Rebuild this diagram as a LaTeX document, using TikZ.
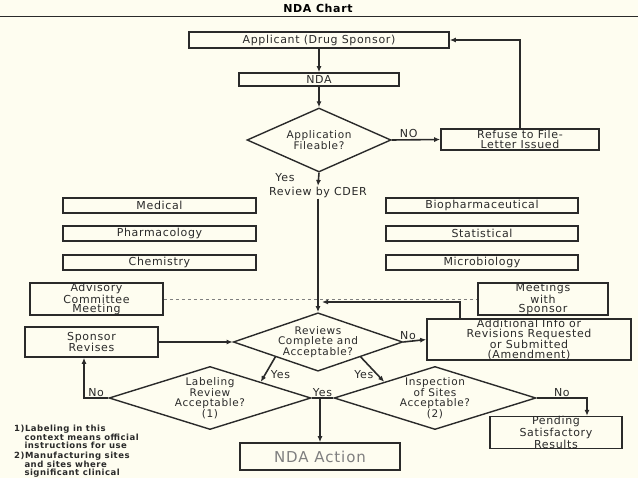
\documentclass[tikz,border=0pt]{standalone}
\usepackage{fontspec}
\setmainfont{DejaVu Sans}[LetterSpace=6]
\usetikzlibrary{shapes.geometric,arrows.meta}
\definecolor{bg}{HTML}{FEFDF0}
\definecolor{ink}{HTML}{2A2A2A}
\begin{document}
\begin{tikzpicture}[x=1pt,y=-1pt,
  box/.style={draw=ink,line width=1.6pt,fill=bg,inner sep=0pt,align=center,text=ink,font=\fontsize{11}{9.5}\selectfont},
  dia/.style={draw=ink,line width=1.4pt,fill=bg,diamond,inner sep=0pt,align=center,text=ink,font=\fontsize{10.5}{9.5}\selectfont},
  arr/.style={-{Latex[length=6pt,width=5pt]},line width=1.6pt,draw=ink},
  lbl/.style={font=\fontsize{11}{10}\selectfont,text=ink,inner sep=1pt}]
\fill[bg] (0,0) rectangle (638,478);
\useasboundingbox (0,0) rectangle (638,478);
\node[font=\bfseries\fontsize{11}{11}\selectfont] (title) at (318,8) {NDA Chart};
\draw[ink,line width=0.8pt] (0,16) -- (638,16);
\node[box,minimum width=260pt,minimum height=16pt] (app) at (319,40) {Applicant (Drug Sponsor)};
\node[box,minimum width=160pt,minimum height=13pt] (nda) at (319,79.5) {NDA};
\node[dia,minimum width=144pt,minimum height=64pt,aspect=2.25] (fil) at (319,140) {Application\\Fileable?};
\node[box,minimum width=158pt,minimum height=21pt] (ref) at (520,139.5) {Refuse to File-\\Letter Issued};
\node[lbl] (yes1) at (285,178) {Yes};
\node[lbl] (cder) at (318,192) {Review by CDER};
\coordinate (c1) at (318,186);
\foreach \n/\t/\y in {med/Medical/205.5,pha/Pharmacology/233.5,che/Chemistry/262.5}{
  \node[box,minimum width=193pt,minimum height=15pt] (\n) at (159.5,\y) {\t};}
\foreach \n/\t/\y in {bio/Biopharmaceutical/205.5,sta/Statistical/233.5,mic/Microbiology/262.5}{
  \node[box,minimum width=192pt,minimum height=15pt] (\n) at (482,\y) {\t};}
\node[box,minimum width=133pt,minimum height=32pt] (adv) at (96.5,299) {Advisory\\Committee\\Meeting};
\node[box,minimum width=130pt,minimum height=32pt] (mee) at (543,299) {Meetings\\with\\Sponsor};
\draw[ink!60,dashed,line width=0.8pt] (adv.east) -- (mee.west);
\node[dia,minimum width=163pt,minimum height=55pt,aspect=2.9] (rev) at (318,342) {Reviews\\Complete and\\Acceptable?};
\node[box,minimum width=204pt,minimum height=37pt] (add) at (529,339.5) {Additional Info or\\Revisions Requested\\or Submitted\\(Amendment)};
\node[box,minimum width=133pt,minimum height=30pt] (spo) at (91.5,342) {Sponsor\\Revises};
\node[dia,minimum width=180pt,minimum height=55pt,aspect=3.2] (lab) at (210,398) {Labeling\\Review\\Acceptable?\\(1)};
\node[dia,minimum width=180pt,minimum height=55pt,aspect=3.2] (ins) at (435,398) {Inspection\\of Sites\\Acceptable?\\(2)};
\node[box,minimum width=160pt,minimum height=27pt,text=ink!60,font=\fontsize{15}{15}\selectfont] (act) at (320,456.5) {NDA Action};
\node[box,minimum width=132pt,minimum height=31pt] (pen) at (556,432.5) {Pending\\Satisfactory\\Results};
% connectors
\draw[arr] (app) -- (nda);
\draw[arr] (nda) -- (fil);
\draw[arr] (fil.east) -- node[lbl,above,pos=0.35] {NO} (ref.west);
\draw[arr] (ref.north) |- (app.east);
\draw[arr] (fil.south) -- (c1);
\draw[arr] (cder.south) -- (rev.north);
\draw[arr] (rev.east) -- node[lbl,above,pos=0.2] {No} (add.west);
\draw[arr] (add.north -| 460,0) |- (322,302);
\draw[arr] (spo.east) -- (rev.west);
\draw[arr] (rev.south west) -- node[lbl,right,pos=0.7,xshift=4pt] {Yes} (lab.north east);
\draw[arr] (rev.south east) -- node[lbl,left,pos=0.7,xshift=-2pt] {Yes} (ins.north west);
\draw[arr] (lab.west) -- node[lbl,above,pos=0.5] {No} (84,398) -- (spo.south -| 84,0);
\coordinate (j) at (320,398);
\draw[ink,line width=1.6pt] (lab.east) -- node[lbl,above] {Yes} (ins.west);
\draw[arr] (j) -- (act.north);
\draw[arr] (ins.east) -- node[lbl,above,pos=0.5] {No} (587,398) -- (pen.north -| 587,0);
\node[align=left,anchor=north west,font=\bfseries\fontsize{8.5}{8.5}\selectfont,text=ink,inner sep=0pt] (n1) at (14,425) {1)Labeling in this\\\phantom{1)}context means official\\\phantom{1)}instructions for use};
\node[align=left,anchor=north west,font=\bfseries\fontsize{8.5}{8.5}\selectfont,text=ink,inner sep=0pt] (n2) at (14,452) {2)Manufacturing sites\\\phantom{2)}and sites where\\\phantom{2)}significant clinical};
\end{tikzpicture}
\end{document}
